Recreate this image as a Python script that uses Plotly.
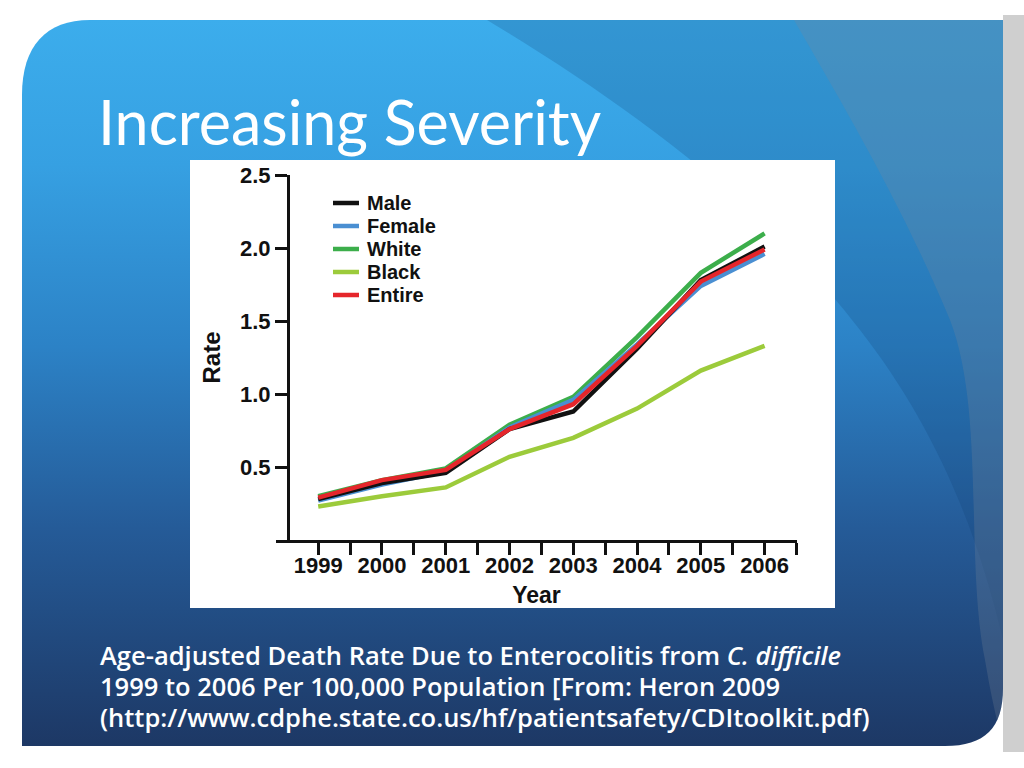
import base64
import plotly.graph_objects as go

# ---------------- data ----------------
years = [1999, 2000, 2001, 2002, 2003, 2004, 2005, 2006]
male = [0.28, 0.39, 0.46, 0.76, 0.88, 1.31, 1.78, 2.01]
female = [0.27, 0.38, 0.47, 0.77, 0.96, 1.34, 1.74, 1.96]
white = [0.30, 0.41, 0.49, 0.79, 0.98, 1.39, 1.83, 2.10]
black = [0.23, 0.30, 0.36, 0.57, 0.70, 0.90, 1.16, 1.33]
entire = [0.29, 0.41, 0.48, 0.76, 0.93, 1.33, 1.77, 1.99]

legend_names = ["Male", "Female", "White", "Black", "Entire"]
y_ticks = [0.5, 1.0, 1.5, 2.0, 2.5]

title_text = "Increasing Severity"
caption_lines = [
    "Age-adjusted Death Rate Due to Enterocolitis from <i>C. difficile</i>",
    "1999 to 2006 Per 100,000 Population [From: Heron 2009",
    "(http://www.cdphe.state.co.us/hf/patientsafety/CDItoolkit.pdf)",
]

# ---------------- styles ----------------
W, H = 1024, 768
colors = {"Male": "#111111", "Female": "#4a8fd2", "White": "#3cae4b",
          "Black": "#9ccb3b", "Entire": "#e5262b"}
series = {"Male": male, "Female": female, "White": white, "Black": black, "Entire": entire}
draw_order = ["Black", "White", "Female", "Male", "Entire"]
BOLD = "Arial, Liberation Sans"
AX_FONT = dict(family=BOLD, size=22, color="#111111", weight="bold")


def px(x):
    return x / W


def py(y):
    return 1 - y / H


# ---------------- background (slide) ----------------
slide_path = "M22,95 C22,46 46,20 90,20 L1003,20 L1003,688 C1003,728 985,746 945,746 L22,746 Z"
svg = f'''<svg xmlns="http://www.w3.org/2000/svg" width="{W}" height="{H}" viewBox="0 0 {W} {H}">
<defs>
<linearGradient id="g" gradientUnits="userSpaceOnUse" x1="0" y1="20" x2="0" y2="746">
<stop offset="0" stop-color="#3cadec"/>
<stop offset="0.2" stop-color="#36a0e2"/>
<stop offset="0.45" stop-color="#2c82c6"/>
<stop offset="0.7" stop-color="#255b98"/>
<stop offset="1" stop-color="#1d3865"/>
</linearGradient>
<clipPath id="c"><path d="{slide_path}"/></clipPath>
</defs>
<rect width="{W}" height="{H}" fill="#ffffff"/>
<rect x="1003" y="15" width="21" height="737" fill="#cfcfcf"/>
<g clip-path="url(#c)">
<rect x="0" y="0" width="{W}" height="{H}" fill="url(#g)"/>
<path d="M487,20 C620,100 760,200 860,330 C930,420 975,520 1003,640 L1003,20 Z" fill="#0e3c6e" fill-opacity="0.2"/>
<path d="M794,20 C840,100 900,200 950,320 C985,410 965,560 985,660 C995,720 1003,740 1003,746 L1003,20 Z" fill="#7a8896" fill-opacity="0.25"/>
</g>
</svg>'''
svg_uri = "data:image/svg+xml;base64," + base64.b64encode(svg.encode()).decode()

fig = go.Figure()

for name in draw_order:
    fig.add_trace(go.Scatter(
        x=years, y=series[name], mode="lines", name=name,
        line=dict(color=colors[name], width=4.5), showlegend=False,
    ))

# x ticks every half year, labels at whole years
x_tickvals = []
x_ticktext = []
for yr in years:
    x_tickvals += [yr, yr + 0.5]
    x_ticktext += [str(yr), ""]

# pixel geometry of axes
x_left_px, x_right_px = 276, 797
y_axis_px = 288
yr0_px, yr1_px = 318.2, 764.6
ppy = (yr1_px - yr0_px) / (years[-1] - years[0])
x_range = [years[0] - (yr0_px - x_left_px) / ppy, years[-1] + (x_right_px - yr1_px) / ppy]

fig.update_layout(
    width=W, height=H,
    margin=dict(l=0, r=0, t=0, b=0, pad=0, autoexpand=False),
    paper_bgcolor="#ffffff",
    plot_bgcolor="rgba(0,0,0,0)",
    showlegend=False,
    xaxis=dict(
        domain=[px(x_left_px), px(x_right_px)],
        range=x_range, automargin=False,
        tickvals=x_tickvals, ticktext=x_ticktext,
        ticks="outside", ticklen=12, tickwidth=3, tickcolor="#111111",
        ticklabelstandoff=-8,
        showline=True, linewidth=3, linecolor="#111111",
        showgrid=False, zeroline=False,
        tickfont=AX_FONT,
        title=dict(text="Year", font=dict(family=BOLD, size=23,
                                          color="#111111", weight="bold"), standoff=10),
        fixedrange=True,
    ),
    yaxis=dict(
        domain=[py(540), py(175)],
        range=[0, 2.5], automargin=False,
        anchor="free", position=px(y_axis_px),
        tickvals=y_ticks, ticktext=[f"{v:.1f}" for v in y_ticks],
        ticks="outside", ticklen=12, tickwidth=3, tickcolor="#111111",
        showline=True, linewidth=3, linecolor="#111111",
        showgrid=False, zeroline=False,
        tickfont=AX_FONT,
        title=dict(text="Rate", font=dict(family=BOLD, size=24,
                                          color="#111111", weight="bold"), standoff=11),
        fixedrange=True,
    ),
    images=[dict(source=svg_uri, xref="paper", yref="paper", x=0, y=1,
                 sizex=1, sizey=1, xanchor="left", yanchor="top",
                 sizing="stretch", layer="below")],
)

shapes = [dict(type="rect", xref="paper", yref="paper",
               x0=px(190), x1=px(835), y0=py(608), y1=py(160),
               fillcolor="#ffffff", line=dict(width=0), layer="below")]

# manual legend
annotations = []
leg_top, leg_step = 203, 23
for i, name in enumerate(legend_names):
    yy = leg_top + i * leg_step
    shapes.append(dict(type="line", xref="paper", yref="paper",
                       x0=px(333), x1=px(359), y0=py(yy), y1=py(yy),
                       line=dict(color=colors[name], width=4.5)))
    annotations.append(dict(text=name, xref="paper", yref="paper", x=px(365), y=py(yy),
                            xanchor="left", yanchor="middle", showarrow=False,
                            font=dict(family=BOLD, size=20,
                                      color="#111111", weight="bold")))

annotations.append(dict(text=title_text, xref="paper", yref="paper", x=px(96), y=py(122),
                        xanchor="left", yanchor="middle", showarrow=False,
                        font=dict(family="Lato", size=61, color="#ffffff")))
cap_y = [655, 686, 717]
for line, yy in zip(caption_lines, cap_y):
    annotations.append(dict(text=line, xref="paper", yref="paper",
                            x=px(98), y=py(yy), xanchor="left", yanchor="middle",
                            align="left", showarrow=False,
                            font=dict(family="Open Sans", size=25.5, color="#ffffff",
                                      weight=600)))

fig.update_layout(shapes=shapes, annotations=annotations)

fig.write_html("out.html")
